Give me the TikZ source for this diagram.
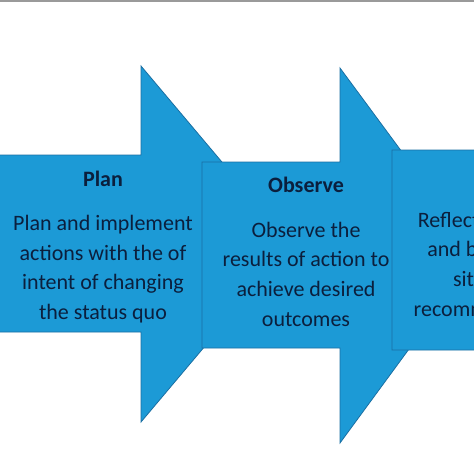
\documentclass[tikz,border=0pt]{standalone}
\usepackage{fontspec}
\setmainfont{Carlito}
\definecolor{arrowfill}{HTML}{1C9AD6}
\definecolor{arrowline}{HTML}{1A6FA3}
\definecolor{textnavy}{HTML}{0B1F3D}
\definecolor{topgray}{HTML}{9A9A9A}
\begin{document}
\begin{tikzpicture}[x=1pt,y=-1pt,
  stage/.style={fill=arrowfill,draw=arrowline,line width=0.8pt,line join=miter},
  ttl/.style={font=\fontsize{22}{29.7}\selectfont\bfseries,text=textnavy,inner sep=0pt},
  body/.style={font=\fontsize{22}{29.7}\selectfont,text=textnavy,align=center,inner sep=0pt}]
\useasboundingbox (0,0) rectangle (474,474);
\clip (0,0) rectangle (474,474);
\fill[white] (0,0) rectangle (474,474);
\fill[topgray] (0,0) rectangle (474,2.2);
% Plan arrow
\draw[stage] (-5,155) -- (141,155) -- (141,66) -- (291,244) -- (141,422) -- (141,332) -- (-5,332) -- cycle;
% Observe arrow
\draw[stage] (202,162) -- (340,162) -- (340,68) -- (478,255) -- (340,443) -- (340,348) -- (202,348) -- cycle;
% Reflect arrow
\draw[stage] (392,150) -- (545,150) -- (545,60) -- (690,250) -- (545,440) -- (545,350) -- (392,350) -- cycle;
\node[ttl] (plant) at (103,179) {Plan};
\node[body] (planb) at (103,269) {Plan and implement\\actions with the of\\intent of changing\\the status quo};
\node[ttl] (obst) at (306,185) {Observe};
\node[body] (obsb) at (306,274) {Observe the\\results of action to\\achieve desired\\outcomes};
\node[body] (refb) at (495,264) {Reflect on results\\and based on a\\situation,\\recommendations};
\end{tikzpicture}
\end{document}
